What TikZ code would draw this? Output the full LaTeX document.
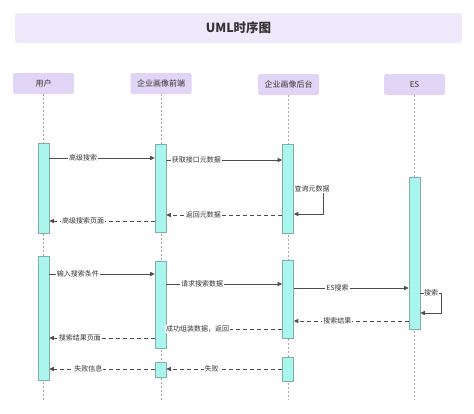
\documentclass[tikz,border=0pt]{standalone}
\usepackage{fontspec}
\newfontfamily\cjk{Noto Sans CJK SC}
\usetikzlibrary{arrows.meta}
\definecolor{headfill}{HTML}{E1D5F5}
\definecolor{titlefill}{HTML}{EEEAFB}
\definecolor{actfill}{HTML}{AAF6EE}
\definecolor{actline}{HTML}{7FAFA8}
\definecolor{msgline}{HTML}{4D4D4D}
\definecolor{txt}{HTML}{333333}
\tikzset{
  head/.style={fill=headfill, rounded corners=1.5pt, minimum width=61pt, minimum height=21pt,
    inner sep=0pt, text=txt, font=\cjk\fontsize{8}{9}\selectfont},
  life/.style={draw=gray!70, line width=0.6pt, dash pattern=on 2pt off 2pt},
  act/.style={draw=actline, fill=actfill, line width=0.6pt, minimum width=11pt,
    inner sep=0pt, anchor=north},
  msg/.style={draw=msgline, line width=0.9pt, -{Triangle[length=4.5pt,width=4pt]}},
  ret/.style={msg, dash pattern=on 4pt off 3pt},
  lbl/.style={fill=white, inner sep=1pt, text=txt, font=\cjk\fontsize{7}{8}\selectfont},
}
\begin{document}
\begin{tikzpicture}[x=1pt,y=-1pt]
  \useasboundingbox (0,0) rectangle (474,413);
  % title
  \node[fill=titlefill, rounded corners=3pt, minimum width=447pt, minimum height=30pt, text=txt,
    font=\cjk\bfseries\fontsize{12.5}{14}\selectfont] (title) at (238.5,28) {UML时序图};
  % participants
  \node[head] (user) at (43.5,83.5) {用户};
  \node[head] (front) at (161,83.5) {企业画像前端};
  \node[head] (back) at (288.5,84.5) {企业画像后台};
  \node[head] (es) at (414.5,84.5) {ES};
  % lifelines
  \draw[life] (user.south) -- (user.south |- 0,400);
  \draw[life] (front.south) -- (front.south |- 0,400);
  \draw[life] (back.south) -- (back.south |- 0,400);
  \draw[life] (es.south) -- (es.south |- 0,400);
  % activations
  \node[act, minimum height=90pt] (u1) at (43.5,143) {};
  \node[act, minimum height=88pt] (f1) at (160.5,144) {};
  \node[act, minimum height=89pt] (b1) at (288,144) {};
  \node[act, minimum height=152pt] (e1) at (414.5,177) {};
  \node[act, minimum height=124pt] (u2) at (43.5,256) {};
  \node[act, minimum height=87pt] (f2) at (160.5,261) {};
  \node[act, minimum height=15pt] (f3) at (160.5,362) {};
  \node[act, minimum height=78pt] (b2) at (288,260) {};
  \node[act, minimum height=24pt] (b3) at (288,357) {};
  % first search
  \draw[msg] (u1.east |- 0,158) -- node[lbl, pos=.32] {高级搜索} (f1.west |- 0,158);
  \draw[msg] (f1.east |- 0,160) -- node[lbl, pos=.26] {获取接口元数据} (b1.west |- 0,160);
  \draw[msg] (b1.east |- 0,189) -- (323,189) -- (323,214) -- (b1.east |- 0,214);
  \node[lbl, anchor=west, inner sep=0.5pt] (q1) at (b1.east |- 0,189) {查询元数据};
  \draw[ret] (b1.west |- 0,215) -- node[lbl, pos=.68] {返回元数据} (f1.east |- 0,215);
  \draw[ret] (f1.west |- 0,221) -- node[lbl, pos=.68] {高级搜索页面} (u1.east |- 0,221);
  % second search
  \draw[msg] (u2.east |- 0,274) -- node[lbl, pos=.27] {输入搜索条件} (f2.west |- 0,274);
  \draw[msg] (f2.east |- 0,284) -- node[lbl, pos=.31] {请求搜索数据} (b2.west |- 0,284);
  \draw[msg] (b2.east |- 0,288) -- node[lbl, pos=.38] {ES搜索} (e1.west |- 0,288);
  \draw[msg] (e1.east |- 0,293) -- (441,293) -- (441,313) -- (e1.east |- 0,313);
  \node[lbl, inner sep=0.5pt] (q2) at (431,293) {搜索};
  \draw[ret] (e1.west |- 0,321) -- node[lbl, pos=.62] {搜索结果} (b2.east |- 0,321);
  \draw[ret] (b2.west |- 0,329) -- node[lbl, pos=.73] {成功组装数据，返回} (f2.east |- 0,329);
  \draw[ret] (f2.west |- 0,338) -- node[lbl, pos=.71] {搜索结果页面} (u2.east |- 0,338);
  % failure
  \draw[ret] (b3.west |- 0,369) -- node[lbl, pos=.61] {失败} (f3.east |- 0,369);
  \draw[ret] (f3.west |- 0,369) -- node[lbl, pos=.63] {失败信息} (u2.east |- 0,369);
\end{tikzpicture}
\end{document}
